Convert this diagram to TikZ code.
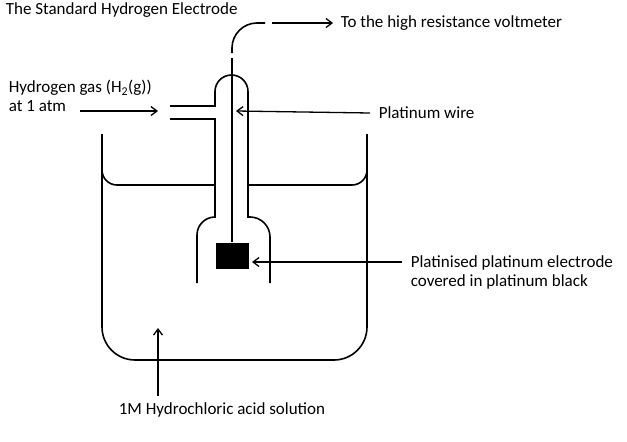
\documentclass[tikz,border=0pt]{standalone}
\usepackage{fontspec}
\setmainfont{Carlito}
\usetikzlibrary{arrows.meta}
\begin{document}
\begin{tikzpicture}[x=1pt,y=-1pt,line width=1.6pt,
  lbl/.style={inner sep=0pt,font=\fontsize{17}{19}\selectfont,anchor=west,align=left},
  arr/.style={line width=1.3pt,-{Straight Barb[length=6pt,width=9pt]}}]
\useasboundingbox (0,0) rectangle (627,442);
% beaker
\draw[rounded corners=33pt] (102,134) -- (102,360) -- (367,360) -- (367,134);
% liquid surface
\draw[rounded corners=15pt] (102,170) -- (102,185) -- (215,185);
\draw[rounded corners=15pt] (248,185) -- (367,185) -- (367,170);
% tube
\draw (170,106) -- (215,106) [rounded corners=16.5pt] -- (215,75) -- (248,75) [sharp corners] -- (248,217) [rounded corners=20pt] -- (270,217) -- (270,283);
\draw (170,119) -- (215,119) -- (215,217) [rounded corners=18pt] -- (197,217) -- (197,283);
% wire and electrode
\coordinate (wb) at (232,242);
\draw (232,58) -- (wb);
\node[fill=black,minimum width=33pt,minimum height=26pt,inner sep=0pt,anchor=north] (pt) at (wb) {};
\draw[rounded corners=25pt] (232,53) -- (232,23) -- (265,23);
\coordinate (vs) at (272,23);
% texts
\node[lbl] (title) at (5,10) {The Standard Hydrogen Electrode};
\node[lbl] (volt) at (340,23) {To the high resistance voltmeter};
\node[lbl] (h2) at (8,88) {Hydrogen gas (H\textsubscript{2}(g))};
\node[lbl] (atm) at (8,106) {at 1 atm};
\node[lbl] (ptw) at (378,113) {Platinum wire};
\node[lbl] (ppe) at (410,272) {Platinised platinum electrode\\covered in platinum black};
\node[lbl,anchor=center] (hcl) at (222,410) {1M Hydrochloric acid solution};
% arrows
\coordinate (h2s) at (80,111); \coordinate (h2e) at (158,111);
\draw[arr] (h2s) -- (h2e);
\coordinate (ptwe) at (236,111);
\draw[arr] (ptw.west) ++(-8,0) coordinate (ptws) -- (ptwe);
\draw[arr] (vs) -- (volt.west -| 333,0);
\coordinate (ppee) at (252,262);
\draw[arr] (402,262) -- (ppee);
\coordinate (hcle) at (158,328);
\draw[arr] (158,396) -- (hcle);
\end{tikzpicture}
\end{document}
